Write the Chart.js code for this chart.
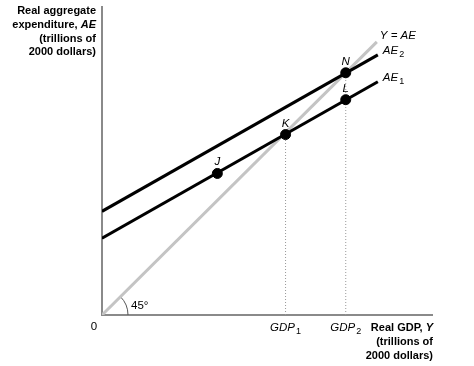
<!DOCTYPE html>
<html><head><meta charset="utf-8">
<script src="https://cdn.jsdelivr.net/npm/chart.js@4"></script>
<style>html,body{margin:0;padding:0;background:#fff}canvas{display:block}</style>
</head><body>
<canvas id="c" width="474" height="366"></canvas>
<script>
// Data (units: trillions of 2000 dollars, arbitrary scale)
const yaeX = [0, 274];
const yaeY = [0, 274];
const ae1X = [0, 275];
const ae1Y = [77, 234];
const ae2X = [0, 275];
const ae2Y = [104, 261];
const pointNames = ['J', 'K', 'N', 'L'];
const pointX = [115, 183, 243, 243];
const pointY = [142, 181, 243, 216];
const gdpNames = ['GDP1', 'GDP2'];
const gdpX = [183, 243];
const gdpY = [181, 243];
const xMax = 330, yMax = 310;

const toPts = (xs, ys) => xs.map((x, i) => ({x, y: ys[i]}));

const FONT = '"Liberation Sans", Arial, sans-serif';

const labelPlugin = {
  id: 'labels',
  beforeDatasetsDraw(chart) {
    const {ctx, chartArea: a, scales: {x, y}} = chart;
    ctx.save();
    ctx.strokeStyle = '#8a8a8a';
    ctx.lineWidth = 2;
    ctx.beginPath();
    ctx.moveTo(a.left, a.top);
    ctx.lineTo(a.left, a.bottom);
    ctx.lineTo(a.right, a.bottom);
    ctx.stroke();
    // 45 degree arc
    const ox = x.getPixelForValue(0), oy = y.getPixelForValue(0);
    ctx.strokeStyle = '#555';
    ctx.lineWidth = 1;
    ctx.beginPath();
    ctx.arc(ox, oy, 26, -Math.PI / 4, 0);
    ctx.stroke();
    ctx.restore();
  },
  afterDatasetsDraw(chart) {
    const {ctx, chartArea: a, scales: {x, y}} = chart;
    ctx.save();
    ctx.fillStyle = '#000';
    // point labels
    ctx.font = 'italic 11.5px ' + FONT;
    ctx.textAlign = 'center';
    ctx.textBaseline = 'alphabetic';
    pointNames.forEach((n, i) => {
      const px = x.getPixelForValue(pointX[i]), py = y.getPixelForValue(pointY[i]);
      ctx.fillText(n, px, py - 8);
    });
    // line labels
    ctx.textAlign = 'left';
    const sub = (base, s, px, py) => {
      ctx.font = 'italic 11.5px ' + FONT;
      ctx.fillText(base, px, py);
      const w = ctx.measureText(base).width;
      ctx.font = '9px ' + FONT;
      ctx.fillText(s, px + w + 1, py + 3);
    };
    ctx.font = 'italic 11.5px ' + FONT;
    ctx.fillText('Y = AE', x.getPixelForValue(yaeX[1]) + 3, y.getPixelForValue(yaeY[1]) - 3);
    sub('AE', '2', x.getPixelForValue(ae2X[1]) + 5, y.getPixelForValue(ae2Y[1]) - 1);
    sub('AE', '1', x.getPixelForValue(ae1X[1]) + 5, y.getPixelForValue(ae1Y[1]) - 1);
    // GDP labels
    gdpX.forEach((g, i) => {
      const px = x.getPixelForValue(g);
      ctx.font = 'italic 11.5px ' + FONT;
      const w = ctx.measureText('GDP').width;
      ctx.font = '9px ' + FONT;
      const w2 = ctx.measureText(String(i + 1)).width;
      const sx = px - (w + w2 + 1) / 2;
      sub('GDP', String(i + 1), sx, a.bottom + 16);
    });
    // 0 and 45°
    ctx.font = '11.5px ' + FONT;
    ctx.textAlign = 'center';
    ctx.fillText('0', a.left - 8, a.bottom + 15);
    ctx.textAlign = 'left';
    ctx.fillText('45°', a.left + 29, a.bottom - 6);
    // axis titles
    ctx.font = 'bold 11px ' + FONT;
    ctx.textAlign = 'right';
    const yt = ['Real aggregate', 'expenditure, ', '(trillions of', '2000 dollars)'];
    const tx = a.left - 6;
    ctx.fillText(yt[0], tx, 14);
    ctx.font = 'bold italic 11px ' + FONT;
    const aeW = ctx.measureText('AE').width;
    ctx.fillText('AE', tx, 28);
    ctx.font = 'bold 11px ' + FONT;
    ctx.fillText('expenditure, ', tx - aeW, 28);
    ctx.fillText(yt[2], tx, 42);
    ctx.fillText(yt[3], tx, 55);
    const rx = a.right;
    ctx.font = 'bold italic 11px ' + FONT;
    const yW = ctx.measureText('Y').width;
    ctx.fillText('Y', rx, a.bottom + 16);
    ctx.font = 'bold 11px ' + FONT;
    ctx.fillText('Real GDP, ', rx - yW, a.bottom + 16);
    ctx.fillText('(trillions of', rx, a.bottom + 30);
    ctx.fillText('2000 dollars)', rx, a.bottom + 44);
    ctx.restore();
  }
};

const dotted = gdpX.map((g, i) => ({
  type: 'line',
  data: [{x: g, y: 0}, {x: g, y: gdpY[i]}],
  borderColor: '#999',
  borderWidth: 1,
  borderDash: [1, 2],
  pointRadius: 0,
  order: 5
}));

new Chart(document.getElementById('c'), {
  type: 'scatter',
  data: {
    datasets: [
      ...dotted,
      {type: 'line', data: toPts(yaeX, yaeY), borderColor: '#c4c4c4', borderWidth: 3, pointRadius: 0, order: 4},
      {type: 'line', data: toPts(ae2X, ae2Y), borderColor: '#000', borderWidth: 3, pointRadius: 0, order: 3},
      {type: 'line', data: toPts(ae1X, ae1Y), borderColor: '#000', borderWidth: 3, pointRadius: 0, order: 2},
      {type: 'scatter', data: toPts(pointX, pointY), backgroundColor: '#000', borderColor: '#000', pointRadius: 5, order: 1}
    ]
  },
  options: {
    responsive: false,
    animation: false,
    devicePixelRatio: 1,
    layout: {padding: {left: 102, top: 5, right: 41, bottom: 51}},
    plugins: {legend: {display: false}, tooltip: {enabled: false}},
    scales: {
      x: {type: 'linear', min: 0, max: xMax, display: false},
      y: {type: 'linear', min: 0, max: yMax, display: false}
    }
  },
  plugins: [labelPlugin]
});
</script>
</body></html>
